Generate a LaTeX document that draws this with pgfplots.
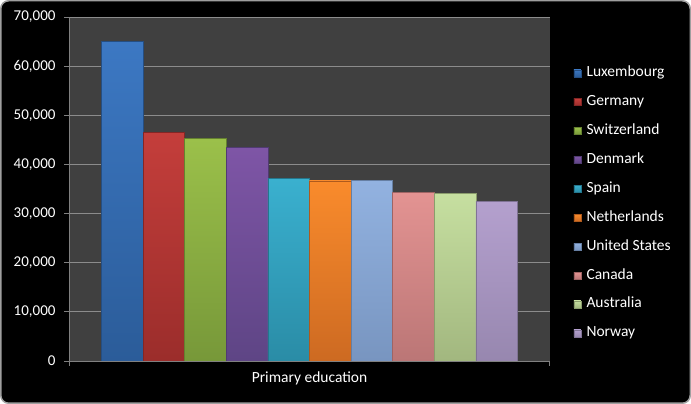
\documentclass[border=0pt]{standalone}
\usepackage{fontspec}
\setmainfont{Carlito}
\usepackage{pgfplots}
\pgfplotsset{compat=1.18}
\definecolor{luxT}{HTML}{3C78C3}\definecolor{luxB}{HTML}{2B5C99}
\definecolor{gerT}{HTML}{C43E3B}\definecolor{gerB}{HTML}{9B2D2B}
\definecolor{swiT}{HTML}{9BC04A}\definecolor{swiB}{HTML}{779839}
\definecolor{denT}{HTML}{7E55A6}\definecolor{denB}{HTML}{5E4585}
\definecolor{spaT}{HTML}{3AB0CF}\definecolor{spaB}{HTML}{2A8CA6}
\definecolor{netT}{HTML}{F98B2C}\definecolor{netB}{HTML}{CD6A22}
\definecolor{usaT}{HTML}{92B2E0}\definecolor{usaB}{HTML}{7895C0}
\definecolor{canT}{HTML}{E39392}\definecolor{canB}{HTML}{BB7676}
\definecolor{ausT}{HTML}{C6DFA0}\definecolor{ausB}{HTML}{A2B77F}
\definecolor{norT}{HTML}{B4A0CE}\definecolor{norB}{HTML}{9787AF}
\definecolor{plotbg}{HTML}{404040}
\definecolor{gridc}{HTML}{8C8C8C}
\pgfplotsset{
  barsty/.style n args={2}{top color=#1, bottom color=#2, draw=#2!85!black, line width=0.6pt,
    legend image code/.code={\draw[##1,line width=0.3pt] (0pt,-3.5pt) rectangle (7pt,3.5pt);}},
}
\begin{document}
\begin{tikzpicture}[x=1pt,y=1pt]
\fill[black, draw=gray!75, line width=1.5pt, rounded corners=8pt] (0.75,0.75) rectangle (690.25,403.25);
\useasboundingbox (0,0) rectangle (691,404);
\begin{axis}[
  at={(69.5pt,43pt)}, anchor=south west,
  scale only axis, width=480pt, height=344pt,
  axis background/.style={fill=plotbg},
  xmin=-0.5, xmax=0.5, ymin=0, ymax=70000,
  ybar=0pt, bar width=41.6pt,
  ytick={0,10000,...,70000},
  scaled y ticks=false,
  /pgf/number format/1000 sep={,},
  /pgf/number format/assume math mode=true,
  ymajorgrids, grid style={gridc, line width=0.8pt},
  axis x line*=bottom, axis y line*=left,
  axis line style={-, gray, line width=0.8pt},
  tick align=outside, major tick length=5pt,
  tick style={gray, line width=0.8pt},
  yticklabel style={white, font=\fontsize{15}{18}\selectfont, xshift=-5.5pt},
  xtick={-0.5,0.5}, xticklabels={},
  extra x ticks={0}, extra x tick labels={Primary education},
  extra x tick style={major tick length=0pt, grid=none,
    xticklabel style={white, font=\fontsize{15.5}{18}\selectfont, yshift=-7pt}},
  legend style={at={(1,1)}, anchor=north west, xshift=24pt, yshift=-46.5pt,
    draw=none, fill=none, text=white, font=\fontsize{15.5}{18}\selectfont,
    inner sep=0pt, row sep=9.9pt,
    nodes={text height=10pt, text depth=3pt, inner sep=3pt},
    /tikz/every odd column/.append style={column sep=2.5pt}},
  legend cell align=left,
]
\addplot[barsty={luxT}{luxB}] coordinates {(0,65100)};
\addplot[barsty={gerT}{gerB}] coordinates {(0,46500)};
\addplot[barsty={swiT}{swiB}] coordinates {(0,45250)};
\addplot[barsty={denT}{denB}] coordinates {(0,43400)};
\addplot[barsty={spaT}{spaB}] coordinates {(0,37100)};
\addplot[barsty={netT}{netB}] coordinates {(0,36650)};
\addplot[barsty={usaT}{usaB}] coordinates {(0,36700)};
\addplot[barsty={canT}{canB}] coordinates {(0,34300)};
\addplot[barsty={ausT}{ausB}] coordinates {(0,34100)};
\addplot[barsty={norT}{norB}] coordinates {(0,32450)};
\legend{Luxembourg,Germany,Switzerland,Denmark,Spain,Netherlands,United States,Canada,Australia,Norway}
\end{axis}
\end{tikzpicture}
\end{document}
